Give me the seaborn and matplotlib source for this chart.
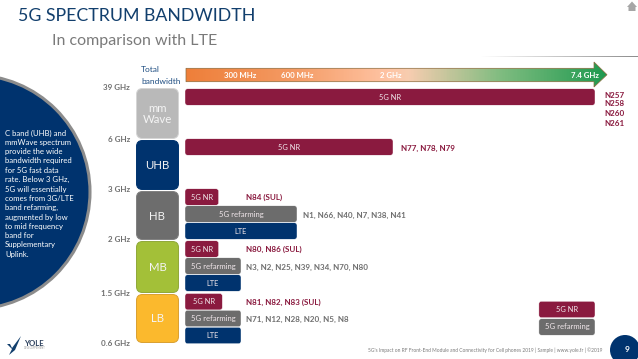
import numpy as np
import pandas as pd

import matplotlib
matplotlib.use("Agg")
import matplotlib.pyplot as plt
import seaborn as sns
from matplotlib.patches import Circle, FancyBboxPatch, Polygon
from matplotlib.colors import LinearSegmentedColormap

sns.set_theme(style="white")
plt.rcParams["font.family"] = ["Lato", "DejaVu Sans"]

MAROON = "#8A1A3F"
GREY = "#6C6C6C"
NAVY = "#00336E"
TXT_GREY = "#6F6F6F"

# bandwidth bars, in MHz
bar_names = ["5G NR", "5G NR", "5G NR", "5G refarming", "LTE", "5G NR", "5G refarming", "LTE",
             "5G NR", "5G refarming", "LTE", "5G NR", "5G refarming"]
bar_start = [0, 0, 0, 0, 0, 0, 0, 0, 0, 0, 0, 5900, 5900]
bar_end = [7400, 2000, 180, 600, 600, 180, 300, 300, 200, 300, 300, 7400, 7400]

bar_rows = [97, 147, 197, 214, 231, 249, 266, 283, 301.7, 318.5, 335.5, 309.5, 327]

# the top arrow is not linear: anchors of MHz against slide pixels
scale_mhz = [0, 300, 600, 2000, 7400]
scale_px = [185, 241, 297, 393, 595]
arrow_labels = ["300 MHz", "600 MHz", "2 GHz", "7.4 GHz"]
arrow_label_x = [240, 297, 391, 585]

band_names = ["mm\nWave", "UHB", "HB", "MB", "LB"]
band_colors = ["#B9B9B9", "#00336E", "#6D6D6D", "#A3C038", "#FBB92D"]
band_edges = ["#D5D5D5", "#00336E", "#808080", "#8FA838", "#D9A030"]
freq_labels = ["39 GHz", "6 GHz", "3 GHz", "2 GHz", "1.5 GHz", "0.6 GHz"]
freq_y = [87, 139, 190, 240, 293, 343]

nr_labels = ["N77, N78, N79", "N84 (SUL)", "N1, N66, N40, N7, N38, N41", "N80, N86 (SUL)",
             "N3, N2, N25, N39, N34, N70, N80", "N81, N82, N83 (SUL)", "N71, N12, N28, N20, N5, N8"]
nr_x = [401, 246, 303, 246, 246, 246, 246]
nr_y = [148, 197, 215, 249, 267, 302, 319]
nr_colors = [MAROON, MAROON, TXT_GREY, MAROON, TXT_GREY, MAROON, TXT_GREY]
mm_labels = ["N257", "N258", "N260", "N261"]
mm_y = [95, 104, 114, 123]

circle_lines = ["C band (UHB) and", "mmWave spectrum", "provide the wide", "bandwidth required",
                "for 5G fast data", "rate. Below 3 GHz,", "5G will essentially", "comes from 3G/LTE",
                "band refarming,", "augmented by low", "to mid frequency", "band for",
                "Supplementary", "Uplink."]
circle_y = [133, 142.5, 151.7, 161, 170.3, 179, 189.3, 198.3, 207.7, 217.3, 226, 235, 245, 254]

df = pd.DataFrame({"name": bar_names, "start": bar_start, "end": bar_end, "row": bar_rows})


def to_px(v):
    return np.interp(v, scale_mhz, scale_px)


def to_mhz(v):
    return np.interp(v, scale_px, scale_mhz)


fig = plt.figure(figsize=(6.38, 3.59), dpi=100)

ax = fig.add_axes([185 / 638, 0, (595 - 185) / 638, 1])
sns.barplot(
    data=df, x="end", y="row", hue="name", orient="y", native_scale=True, dodge=False,
    palette={"5G NR": MAROON, "5G refarming": GREY, "LTE": NAVY}, saturation=1,
    errorbar=None, legend=False, ax=ax
)
ax.set_xscale("function", functions=(to_px, to_mhz))
ax.set_xlim(0, 7400)
ax.set_ylim(359, 0)
ax.axis("off")

# slide layer in pixels, sits over the chart axes
top = fig.add_axes([0, 0, 1, 1], zorder=5)
top.set_xlim(0, 638)
top.set_ylim(359, 0)
top.axis("off")
top.patch.set_alpha(0)

# seaborn lays out the bars, they get redrawn with rounded corners
for bar in list(ax.patches):
    row = bar.get_y() + bar.get_height() / 2
    match = df[(df["row"] - row).abs() < 0.01].iloc[0]
    x0 = to_px(match["start"])
    x1 = to_px(match["end"])
    top.add_patch(FancyBboxPatch(
        (x0, row - 8.2), x1 - x0, 16.4,
        boxstyle="round,pad=0,rounding_size=2.5",
        fc=bar.get_facecolor(), ec="white", lw=0.3
    ))
    bar.set_visible(False)

for _, r in df.iterrows():
    cx = (to_px(r["start"]) + to_px(r["end"])) / 2
    size = 5.6 if r["name"] == "5G refarming" else 5.4
    top.text(cx, r["row"], r["name"], color="#F0E6EA", fontsize=size, ha="center", va="center")

# bands
for i, name in enumerate(band_names):
    y0 = freq_y[i] + 1.5
    y1 = freq_y[i + 1] - 0.5
    top.add_patch(FancyBboxPatch(
        (136.5, y0), 42, y1 - y0,
        boxstyle="round,pad=0,rounding_size=6",
        fc=band_colors[i], ec=band_edges[i], lw=0.7
    ))
    top.text(157.5, (y0 + y1) / 2 + 0.5, name, color="#F4F4F4", fontsize=8.2, ha="center", va="center",
             linespacing=1.1)

for lab, y in zip(freq_labels, freq_y):
    top.text(130, y, lab, color=TXT_GREY, fontsize=5.8, fontweight="bold", ha="right", va="center")

# gradient arrow for total bandwidth
cmap = LinearSegmentedColormap.from_list(
    "arrow", [(0, "#EE7F3A"), (0.25, "#F49A63"), (0.48, "#FFC4A4"), (0.53, "#F7CDB0"),
              (0.75, "#7FBC80"), (1, "#1F9A50")]
)
grad = np.linspace(0, 1, 400).reshape(1, -1)
img = top.imshow(grad, cmap=cmap, extent=(186, 607, 87, 62), aspect="auto", zorder=2)
arrow = Polygon(
    [(186, 68.3), (594, 68.3), (594, 62), (607, 74.7), (594, 87), (594, 81.7), (186, 81.7)],
    closed=True, fc="none", ec="#8C6A3C", lw=0.5, zorder=3
)
top.add_patch(arrow)
img.set_clip_path(arrow)
for lab, x in zip(arrow_labels, arrow_label_x):
    top.text(x, 76, lab, color="white", fontsize=5.6, fontweight="bold", ha="center", va="center", zorder=4)
top.set_xlim(0, 638)
top.set_ylim(359, 0)

# side text
top.text(141, 69, "Total", color="#1F4E82", fontsize=6, ha="left", va="center")
top.text(141, 81, "bandwidth", color="#1F4E82", fontsize=6, ha="left", va="center")

for lab, y in zip(mm_labels, mm_y):
    top.text(604, y, lab, color=MAROON, fontsize=5.8, fontweight="bold", ha="left", va="center")
for lab, x, y, c in zip(nr_labels, nr_x, nr_y, nr_colors):
    top.text(x, y, lab, color=c, fontsize=5.8, fontweight="bold", ha="left", va="center")

# callout circle
top.add_patch(Circle((-27, 192), 117, fc=NAVY, ec="#8C8C8C", lw=2.2, zorder=1))
for line, y in zip(circle_lines, circle_y):
    top.text(5, y, line, color="white", fontsize=5.6, ha="left", va="center", zorder=2)

# title
top.text(18, 16, "5G SPECTRUM BANDWIDTH", color="#123F6D", fontsize=12.8, ha="left", va="center")
top.text(52, 41, "In comparison with LTE", color="#7A7A7A", fontsize=11.5, ha="left", va="center")

# fading rule top right
rule = np.ones((1, 200, 4))
rule[..., :3] = 0.55
rule[..., 3] = np.linspace(0, 1, 200)
top.imshow(rule, extent=(480, 638, 57, 56), aspect="auto")

# home icon
top.add_patch(Polygon([(627, 7), (632, 1.5), (637, 7), (635.5, 7), (635.5, 11), (628.5, 11), (628.5, 7)],
                      closed=True, fc="#A6A6A6", ec="none"))

# footer
top.text(603, 350, "5G's Impact on RF Front-End Module and Connectivity for Cell phones 2019 | Sample | www.yole.fr | ©2019",
         color="#7A7A7A", fontsize=3.55, ha="right", va="center")
top.add_patch(Circle((625, 350), 15, fc=NAVY, ec="none"))
top.text(627, 350, "9", color="white", fontsize=6, fontweight="bold", ha="center", va="center")

# logo
top.text(24, 343, "YOLE", color="#2B3F5C", fontsize=5.6, fontweight="bold", ha="left", va="center")
top.add_patch(Polygon([(7, 344), (10, 344), (12, 348), (21, 336), (15, 350), (9, 355), (12, 349)],
                      closed=True, fc="#123F6D", ec="none"))
top.text(24, 348, "DEVELOPPEMENT", color="#9A9A9A", fontsize=1.8, ha="left", va="center")

top.set_xlim(0, 638)
top.set_ylim(359, 0)

fig.savefig("out.png", dpi=100)
plt.close(fig)
